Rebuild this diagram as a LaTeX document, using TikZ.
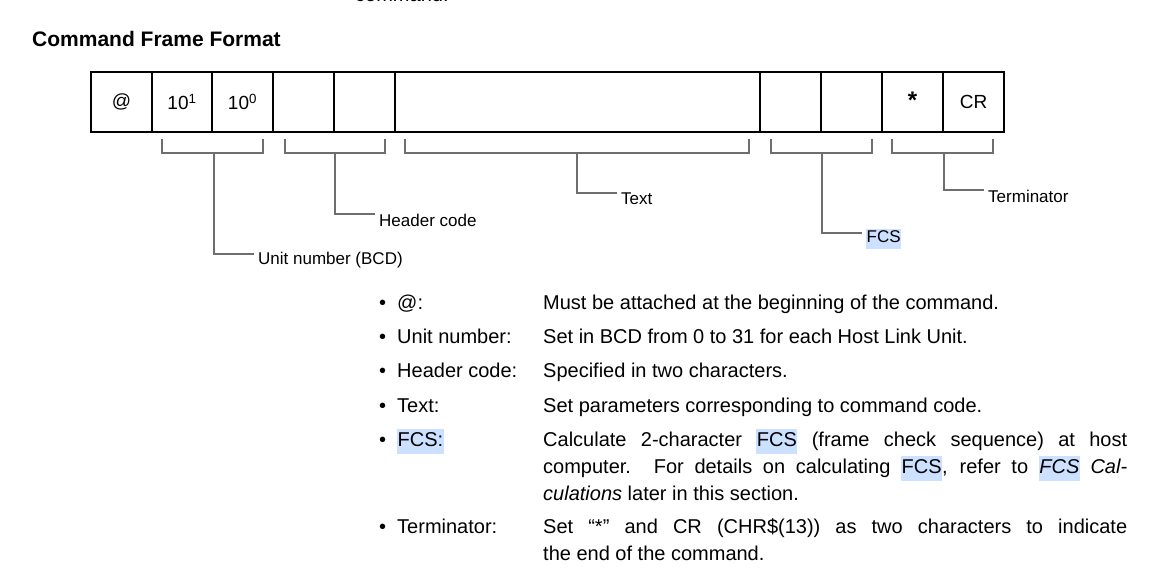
\documentclass[tikz,border=0pt]{standalone}
\usepackage{fontspec}
\setmainfont{Liberation Sans}
\definecolor{hlblue}{RGB}{204,224,255}
\definecolor{brk}{RGB}{110,110,110}
\newcommand{\hlx}[1]{{\setlength{\fboxsep}{0.5pt}\colorbox{hlblue}{\strut #1}}}
\begin{document}
\begin{tikzpicture}[x=1pt,y=-1pt,
  cellbox/.style={draw,line width=2pt,minimum height=60pt,inner sep=0pt,anchor=north west},
  brkline/.style={brk,line width=1.4pt},
  lbl/.style={anchor=west,inner sep=0pt,font=\fontsize{17}{19}\selectfont},
  itm/.style={anchor=base west,inner sep=0pt,font=\fontsize{20}{24}\selectfont}]
\useasboundingbox (0,0) rectangle (1153,577);
\clip (0,0) rectangle (1153,577);
\node[itm] (cut) at (355,2) {command.};
\node[anchor=base west,inner sep=0pt,font=\fontsize{21}{24}\selectfont\bfseries] (title) at (32,47) {Command Frame Format};
% cells
\foreach \n/\a/\b/\t in {c1/90/151/@,c2/151/211/{10\textsuperscript{1}},c3/211/272/{10\textsuperscript{0}},c4/272/333/{},c5/333/394/{},c6/394/759/{},c7/759/820/{},c8/820/881/{},c9/881/942/{\raisebox{3pt}{\fontsize{24}{24}\selectfont\bfseries *}},c10/942/1003/CR}
  \node[cellbox,minimum width={\b-\a},font=\fontsize{19}{21}\selectfont] (\n) at (\a,71) {\t};
% brackets
\foreach \n/\a/\b/\s/\e/\tx in {u/162/263/214/254/{Unit number (BCD)},h/285/385/335/214/{Header code},t/405/749/577/193/Text,f/771/872/822/233/{\hlx{FCS}},r/892/993/944/190/Terminator}{
  \coordinate (\n a) at (\a,139);
  \coordinate (\n b) at (\b,139);
  \coordinate (\n s) at (\s,153);
  \coordinate (\n e) at (\s+40,\e);
  \node[lbl] (\n l) at (\s+44,\e+6) {\tx};
  \draw[brkline] (\n a) |- (\b,153) -- (\n b);
  \draw[brkline] (\n s) |- (\n e);
}
% bullet list
\foreach \y/\k/\d in {
  309/{@:}/{Must be attached at the beginning of the command.},
  343/{Unit number:}/{Set in BCD from 0 to 31 for each Host Link Unit.},
  377/{Header code:}/{Specified in two characters.},
  412/{Text:}/{Set parameters corresponding to command code.},
  446/{\hlx{FCS:}}/{\makebox[584pt][s]{Calculate 2-character \hlx{FCS} (frame check sequence) at host}},
  533/{Terminator:}/{\makebox[584pt][s]{Set “*” and CR (CHR\$(13)) as two characters to indicate}}}{
  \node[itm] at (379,\y) {\textbullet};
  \node[itm] at (397,\y) {\k};
  \node[itm] at (543,\y) {\d};
}
\node[itm] (f2) at (543,473) {\makebox[584pt][s]{computer. For details on calculating \hlx{FCS}, refer to \hlx{\itshape FCS} \itshape Cal-}};
\node[itm] (f3) at (543,500) {\itshape culations \upshape later in this section.};
\node[itm] (t2) at (543,560) {the end of the command.};
\end{tikzpicture}
\end{document}
